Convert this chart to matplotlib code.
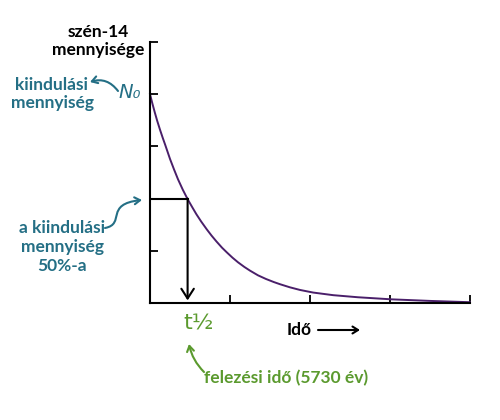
import matplotlib
matplotlib.use("Agg")
import matplotlib.pyplot as plt
from matplotlib.patches import FancyArrowPatch
from matplotlib.path import Path

# ---- data ----
t_vals = [0, 0.03, 0.06, 0.09, 0.125, 0.16, 0.19, 0.25, 0.30, 0.35, 0.41, 0.47, 0.53,
          0.58, 0.64, 0.71, 0.77, 0.83, 0.90, 0.96, 1.03, 1.1, 1.18, 1.25, 1.35, 1.45,
          1.55, 1.625, 1.75, 1.875, 2.04, 2.29, 2.6, 3.02, 3.5, 4.0]
amount = [4.0, 3.82, 3.65, 3.49, 3.32, 3.16, 3.03, 2.76, 2.56, 2.37, 2.17, 1.99, 1.83,
          1.70, 1.56, 1.41, 1.29, 1.18, 1.06, 0.97, 0.87, 0.78, 0.69, 0.62, 0.53, 0.46,
          0.40, 0.36, 0.30, 0.25, 0.20, 0.15, 0.11, 0.07, 0.04, 0.015]
half_life_t = 0.47
half_amount = 2.0
x_ticks = [1, 2, 3, 4]
y_ticks = [1, 2, 3, 4, 5]

TEAL = "#246f85"
GREEN = "#5b9a2e"
PURPLE = "#4a1f6a"

plt.rcParams['font.family'] = ['Lato', 'DejaVu Sans']

W, H = 500, 420
fig = plt.figure(figsize=(W / 100, H / 100), dpi=100)

def fp(x, y):
    return (x / W, 1 - y / H)

ax = fig.add_axes([150 / W, 1 - 303 / H, 320 / W, (303 - 42) / H])
ax.set_xlim(0, 4)
ax.set_ylim(0, 5)
for s in ['top', 'right']:
    ax.spines[s].set_visible(False)
for s in ['left', 'bottom']:
    ax.spines[s].set_linewidth(1.5)
    ax.spines[s].set_color('black')
ax.set_xticks(x_ticks)
ax.set_yticks(y_ticks)
ax.tick_params(direction='in', length=6, width=1.3, labelbottom=False, labelleft=False)

ax.plot(t_vals, amount, color=PURPLE, lw=1.4, clip_on=False, solid_joinstyle='round')
ax.plot([0, half_life_t], [half_amount, half_amount], color='black', lw=1.5)
ax.annotate('', xy=(half_life_t, 0.05), xytext=(half_life_t, half_amount),
            arrowprops=dict(arrowstyle='->,head_length=0.7,head_width=0.45', color='black', lw=1.5,
                            shrinkA=0, shrinkB=0))

# ---- texts ----
FS = 12.5
fig.text(*fp(98, 41), "szén-14\nmennyisége", ha='center', va='center', fontsize=FS,
         fontweight='bold', color='black', linespacing=1.2)
fig.text(*fp(52, 94), "kiindulási\nmennyiség", ha='center', va='center', fontsize=FS,
         fontweight='bold', color=TEAL, linespacing=1.2)
fig.text(*fp(130, 93), "N₀", ha='center', va='center', fontsize=14, color=TEAL,
         family=['DejaVu Sans'], style='italic')
fig.text(*fp(62, 247), "a kiindulási\nmennyiség\n50%-a", ha='center', va='center', fontsize=FS,
         fontweight='bold', color=TEAL, linespacing=1.2)
fig.text(*fp(199, 324), "t½", ha='center', va='center', fontsize=16, color=GREEN,
         family=['DejaVu Sans'])
fig.text(*fp(286, 378), "felezési idő (5730 év)", ha='center', va='center', fontsize=FS,
         fontweight='bold', color=GREEN)
fig.text(*fp(299, 330), "Idő", ha='center', va='center', fontsize=FS,
         fontweight='bold', color='black')

# ---- arrows ----
def arrow(p0, p1, color, rad=0.0, lw=1.5):
    a = FancyArrowPatch(fp(*p0), fp(*p1), transform=fig.transFigure,
                        arrowstyle='->,head_length=4,head_width=2.5',
                        connectionstyle=f'arc3,rad={rad}', color=color, lw=lw,
                        shrinkA=0, shrinkB=0)
    fig.add_artist(a)

arrow((318, 330), (360, 330), 'black')
arrow((118, 91), (90, 82), TEAL, rad=0.35)
arrow((204, 372), (189, 344), GREEN, rad=-0.15)

verts = [fp(105, 228), fp(126, 224), fp(104, 204), fp(142, 200)]
codes = [Path.MOVETO, Path.CURVE4, Path.CURVE4, Path.CURVE4]
sq = FancyArrowPatch(path=Path(verts, codes), transform=fig.transFigure,
                     arrowstyle='->,head_length=4,head_width=2.5', color=TEAL, lw=1.5)
fig.add_artist(sq)

fig.savefig("out.png", dpi=100)
